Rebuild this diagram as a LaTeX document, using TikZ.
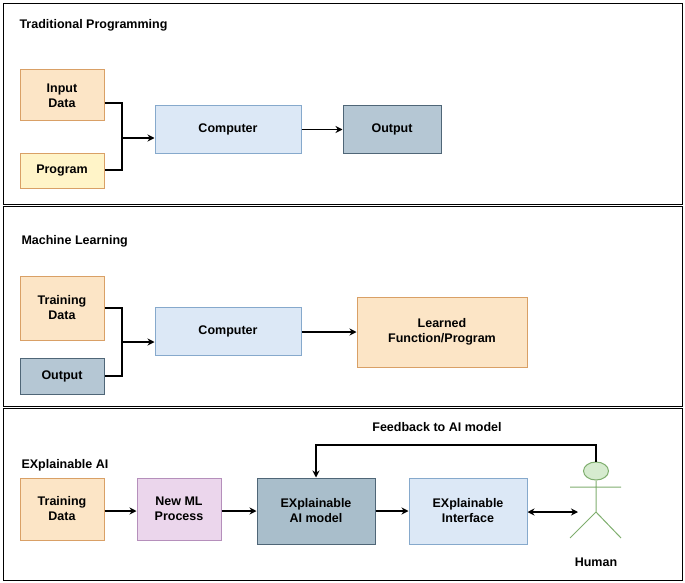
\documentclass[tikz,border=0pt]{standalone}
\usepackage{fontspec}
\setmainfont{Liberation Sans}
\usetikzlibrary{arrows.meta,shapes.geometric}
\definecolor{peach}{HTML}{FCE5C6}\definecolor{peachb}{HTML}{D9A066}
\definecolor{yel}{HTML}{FFF4C8}\definecolor{lblue}{HTML}{DCE8F6}\definecolor{lblueb}{HTML}{86A9CC}
\definecolor{dblue}{HTML}{B5C7D4}\definecolor{dblueb}{HTML}{4F6677}
\definecolor{purp}{HTML}{EBD6EC}\definecolor{purpb}{HTML}{B58FBB}
\definecolor{aim}{HTML}{A9BECB}\definecolor{hgreen}{HTML}{7FAE6E}\definecolor{hfill}{HTML}{D6EBCF}
\tikzset{
 bx/.style={draw, line width=1pt, align=center, font=\bfseries\fontsize{12.5}{15}\selectfont, inner sep=0pt},
 pe/.style={bx, fill=peach, draw=peachb},
 ye/.style={bx, fill=yel, draw=peachb},
 lb/.style={bx, fill=lblue, draw=lblueb},
 db/.style={bx, fill=dblue, draw=dblueb},
 pu/.style={bx, fill=purp, draw=purpb},
 am/.style={bx, fill=aim, draw=dblueb},
 panel/.style={draw, line width=0.8pt},
 ttl/.style={anchor=west, font=\bfseries\fontsize{12.5}{15}\selectfont},
 con/.style={line width=1.2pt},
 arr/.style={con, -{Stealth[length=7pt,width=7pt]}},
}
\newcommand{\bxat}[6]{\node[#1, minimum width=#4pt-#2pt, minimum height=#5pt-#3pt] (#6) at ({(#2+#4)/2},{(#3+#5)/2})}
\begin{document}
\begin{tikzpicture}[x=1pt,y=-1pt]
\useasboundingbox (0,0) rectangle (685,583);
\draw[panel] (3,3) rectangle (682,204);
\draw[panel] (3,206) rectangle (682,406);
\draw[panel] (3,408) rectangle (682,580);
\node[ttl] (t1) at (16,25) {Traditional Programming};
\node[ttl] (t2) at (18,241) {Machine Learning};
\node[ttl] (t3) at (18,465) {EXplainable AI};
% panel 1
\bxat{pe}{20}{70}{104}{121}{in} {Input\\Data};
\bxat{ye}{20}{153}{104}{188}{prog} {Program};
\bxat{lb}{155}{106}{301}{153}{comp1} {Computer};
\bxat{db}{343}{106}{441}{153}{out1} {Output};
\coordinate (j1) at (122,138);
\draw[con] (in.east |- 0,103) -- (122,103) -- (122,170) -- (prog.east |- 0,170);
\draw[arr] (j1) -- (comp1.west |- j1);
\draw[arr] (comp1) -- (out1);
% panel 2
\bxat{pe}{20}{276}{104}{340}{td2} {Training\\Data};
\bxat{db}{20}{358}{104}{394}{out2} {Output};
\bxat{lb}{155}{307}{301}{355}{comp2} {Computer};
\bxat{pe}{357}{297}{527}{367}{lf} {Learned\\Function/Program};
\coordinate (j2) at (122,342);
\draw[con] (td2.east |- 0,308) -- (122,308) -- (122,376) -- (out2.east);
\draw[arr] (j2) -- (comp2.west |- j2);
\draw[arr] (comp2.east |- 0,332) -- (lf.west |- 0,332);
% panel 3
\bxat{pe}{20}{478}{104}{540}{td3} {Training\\Data};
\bxat{pu}{137}{478}{221}{540}{ml} {New ML\\Process};
\bxat{am}{257}{478}{375}{544}{xai} {EXplainable\\AI model};
\bxat{lb}{409}{478}{527}{544}{xi} {EXplainable\\Interface};
\draw[arr] (td3.east |- 0,511) -- (ml.west |- 0,511);
\draw[arr] (ml.east |- 0,511) -- (xai.west |- 0,511);
\draw[arr] (xai.east |- 0,511) -- (xi.west |- 0,511);
% human
\node[draw=hgreen, fill=hfill, line width=1pt, ellipse, minimum width=25pt, minimum height=18pt, inner sep=0pt] (head) at (596,471) {};
\draw[hgreen, line width=1pt] (570,487) -- (621,487) (head.south) -- (596,512) -- (570,538) (596,512) -- (621,538);
\coordinate (hum) at (578,512);
\node[font=\bfseries\fontsize{12.5}{15}\selectfont] (hl) at (596,562) {Human};
\draw[con, {Stealth[length=7pt,width=7pt]}-{Stealth[length=7pt,width=7pt]}] (xi.east |- 0,512) -- (hum);
\draw[arr] (head.north) -- (596,445) -- (316,445) -- (xai.north -| 316,0);
\node[font=\bfseries\fontsize{12.5}{15}\selectfont] (fb) at (437,427) {Feedback to AI model};
\end{tikzpicture}
\end{document}
